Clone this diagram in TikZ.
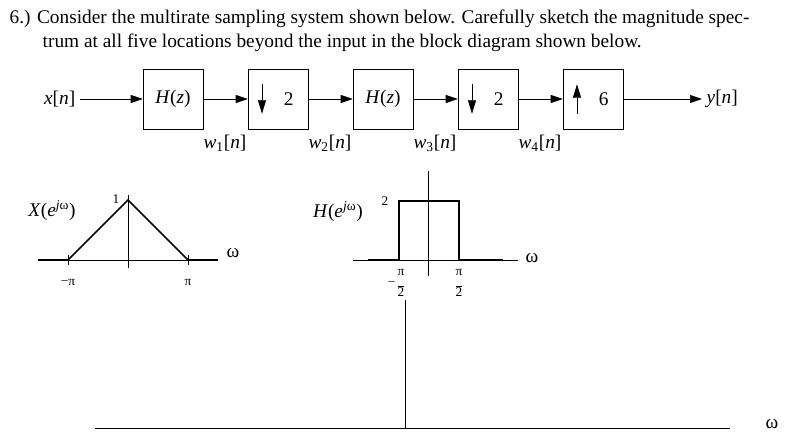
\documentclass[tikz,border=0pt]{standalone}
\usepackage{fontspec}
\setmainfont{Liberation Serif}
\usetikzlibrary{arrows.meta}
\begin{document}
\begin{tikzpicture}[x=0.75pt,y=-0.75pt,
  blk/.style={draw,minimum width=45pt,minimum height=45pt,inner sep=0pt,font=\fontsize{14.5}{17}\selectfont},
  sig/.style={-{Triangle[length=9pt,width=6pt]}},
  lbl/.style={font=\fontsize{14.5}{17}\selectfont},
  sm/.style={font=\fontsize{10}{12}\selectfont},
  thk/.style={line width=1.4pt}]
\useasboundingbox (0,0) rectangle (794,445);
\node[anchor=base west,font=\fontsize{14.5}{18}\selectfont] (t1) at (5,24) {6.) Consider the multirate sampling system shown below. Carefully sketch the magnitude spec-};
\node[anchor=base west,font=\fontsize{14.5}{18}\selectfont] (t2) at (38,48) {trum at all five locations beyond the input in the block diagram shown below.};
% block diagram
\node[lbl,anchor=east] (x) at (80,99) {\textit{x}[\textit{n}]};
\node[blk] (h1) at (173,99) {\textit{H}(\textit{z})};
\node[blk] (d1) at (278,99) {};
\node[blk] (h2) at (383,99) {\textit{H}(\textit{z})};
\node[blk] (d2) at (488,99) {};
\node[blk] (u1) at (593,99) {};
\node[lbl,anchor=west] (y) at (702,99) {\textit{y}[\textit{n}]};
\foreach \b in {d1,d2}{
  \coordinate (\b a) at ([xshift=-12]\b.center);
  \draw[-{Triangle[length=10pt,width=6pt]}] ([yshift=11]\b a) -- ([yshift=-11]\b a);
  \node[lbl] (\b n) at ([xshift=8]\b.center) {2};}
\coordinate (ua) at ([xshift=-12]u1.center);
\draw[-{Triangle[length=10pt,width=6pt]}] ([yshift=-11]ua) -- ([yshift=11]ua);
\node[lbl] (un) at ([xshift=8]u1.center) {6};
\draw[sig] (x) -- (h1);
\draw[sig] (h1) -- (d1);
\draw[sig] (d1) -- (h2);
\draw[sig] (h2) -- (d2);
\draw[sig] (d2) -- (u1);
\draw[sig] (u1) -- (y);
\node[lbl] (w1) at (225,143) {\textit{w}\textsubscript{1}[\textit{n}]};
\node[lbl] (w2) at (330,143) {\textit{w}\textsubscript{2}[\textit{n}]};
\node[lbl] (w3) at (435,143) {\textit{w}\textsubscript{3}[\textit{n}]};
\node[lbl] (w4) at (540,143) {\textit{w}\textsubscript{4}[\textit{n}]};
% plot 1
\draw (38,260) -- (218,260);
\draw[thk] (38,260) -- (68,260) (188,260) -- (218,260);
\draw (128,195) -- (128,268);
\draw (68,255) -- (68,265) (188,255) -- (188,265);
\draw[thk,line width=1.1pt] (68,260) -- (128,200) -- (188,260);
\node[lbl] (xl) at (52,211) {\textit{X}(\textit{e}\textsuperscript{\textit{j}ω})};
\node[sm] (one) at (116,199) {1};
\node[lbl] (om1) at (233,253) {ω};
\node[sm] (mp) at (68,283) {−π};
\node[sm] (pp) at (188,283) {π};
% plot 2
\draw (353,260) -- (518,260);
\draw (428,171) -- (428,276);
\draw[thk] (368,260) -- (399,260) -- (399,201) -- (459,201) -- (459,260) -- (503,260);
\node[lbl] (hl) at (338,212) {\textit{H}(\textit{e}\textsuperscript{\textit{j}ω})};
\node[sm] (two) at (385,201) {2};
\node[lbl] (om2) at (532,258) {ω};
\node[sm,inner sep=0pt] (mh) at (396,283) {−\,\begin{tabular}{@{}c@{}}π\\[-4pt]\rule{5pt}{0.4pt}\\[-4pt]2\end{tabular}};
\node[sm,inner sep=0pt] (ph) at (459,283) {\begin{tabular}{@{}c@{}}π\\[-4pt]\rule{5pt}{0.4pt}\\[-4pt]2\end{tabular}};
% bottom axes
\draw (95,428) -- (730,428);
\draw (405,300) -- (405,428);
\node[lbl] (om3) at (772,424) {ω};
\end{tikzpicture}
\end{document}
